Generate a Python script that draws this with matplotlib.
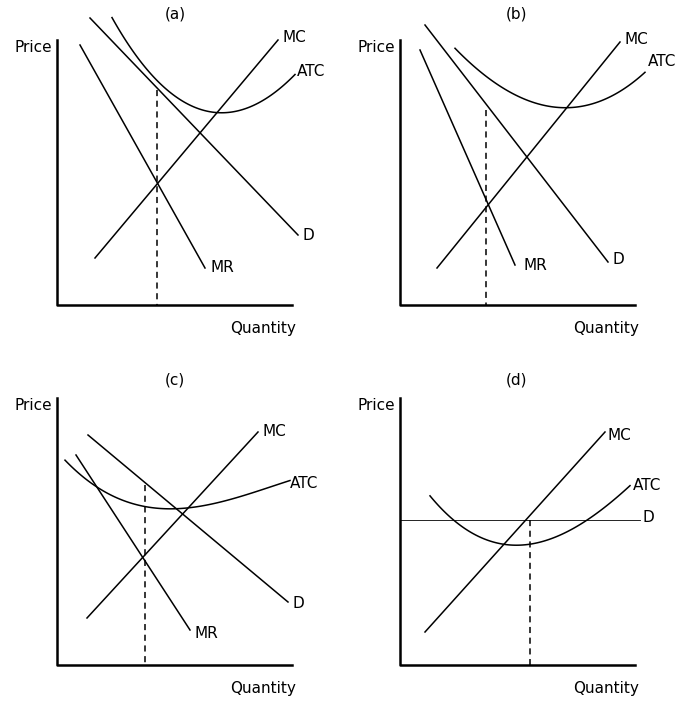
import numpy as np
import matplotlib.pyplot as plt

# panel geometry in picture pixels: (y-axis x, axis top y, axis bottom y, axis right x)
axes_frames = {"a": (57, 40, 305, 292), "b": (400, 40, 305, 635),
               "c": (57, 398, 665, 292), "d": (400, 398, 665, 635)}
titles_xy = {"a": (175, 14), "b": (517, 14), "c": (175, 380), "d": (517, 380)}

# straight lines: (x0, y0, x1, y1)
mc_lines = {"a": (95, 258, 278, 40), "b": (437, 268, 620, 42),
            "c": (87, 618, 258, 432), "d": (425, 632, 605, 432)}
d_lines = {"a": (90, 18, 298, 235), "b": (425, 25, 608, 262),
           "c": (88, 435, 288, 602), "d": (400, 520, 640, 520)}
mr_lines = {"a": (80, 45, 205, 268), "b": (420, 50, 515, 265),
            "c": (76, 455, 190, 630)}

# ATC curves: points
atc_x = {"a": [112, 140, 170, 200, 215, 240, 270, 295],
         "b": [455, 480, 510, 540, 565, 590, 620, 645],
         "c": [65, 90, 120, 150, 165, 200, 250, 290],
         "d": [430, 450, 475, 500, 512, 540, 590, 630]}
atc_y = {"a": [18, 60, 92, 110, 113, 110, 95, 75],
         "b": [48, 72, 92, 104, 108, 104, 92, 72],
         "c": [460, 482, 500, 508, 508, 505, 495, 480],
         "d": [495, 518, 535, 544, 545, 540, 520, 485]}

# dashed verticals: (x, y top)
dashes = {"a": (157, 90), "b": (486, 110), "c": (145, 485), "d": (530, 520)}

labels = {"a": {"MC": (283, 38), "ATC": (297, 72), "D": (303, 235), "MR": (211, 268)},
          "b": {"MC": (625, 40), "ATC": (648, 62), "D": (613, 260), "MR": (524, 265)},
          "c": {"MC": (263, 432), "ATC": (290, 484), "D": (293, 603), "MR": (195, 633)},
          "d": {"MC": (608, 436), "ATC": (633, 485), "D": (643, 518)}}

fig = plt.figure(figsize=(6.94, 7.10), dpi=100)
ax = fig.add_axes([0, 0, 1, 1])
ax.set_xlim(0, 694)
ax.set_ylim(710, 0)
ax.axis("off")

kw = dict(color="black", lw=1.1)
for p, (x0, top, bot, right) in axes_frames.items():
    ax.plot([x0, x0, right], [top, bot, bot], color="black", lw=1.8)
    ax.text(x0 - 5, top + 7, "Price", ha="right", va="center", fontsize=11)
    ax.text(right + 4, bot + 24, "Quantity", ha="right", va="center", fontsize=11)
    ax.text(*titles_xy[p], f"({p})", ha="center", va="center", fontsize=11)

    m = mc_lines[p]
    ax.plot([m[0], m[2]], [m[1], m[3]], **kw)
    d = d_lines[p]
    if p == "d":
        ax.plot([d[0], d[2]], [d[1], d[3]], color="black", lw=0.6)
    else:
        ax.plot([d[0], d[2]], [d[1], d[3]], **kw)
    if p in mr_lines:
        r = mr_lines[p]
        ax.plot([r[0], r[2]], [r[1], r[3]], **kw)

    coef = np.polyfit(atc_x[p], atc_y[p], 3)
    xs = np.linspace(atc_x[p][0], atc_x[p][-1], 100)
    ax.plot(xs, np.polyval(coef, xs), **kw)

    dx, dy = dashes[p]
    ax.plot([dx, dx], [dy, bot], color="black", lw=1.1, ls=(0, (4, 3)))

    for name, (lx, ly) in labels[p].items():
        ax.text(lx, ly, name, ha="left", va="center", fontsize=11)

fig.savefig("out.png", dpi=100)
